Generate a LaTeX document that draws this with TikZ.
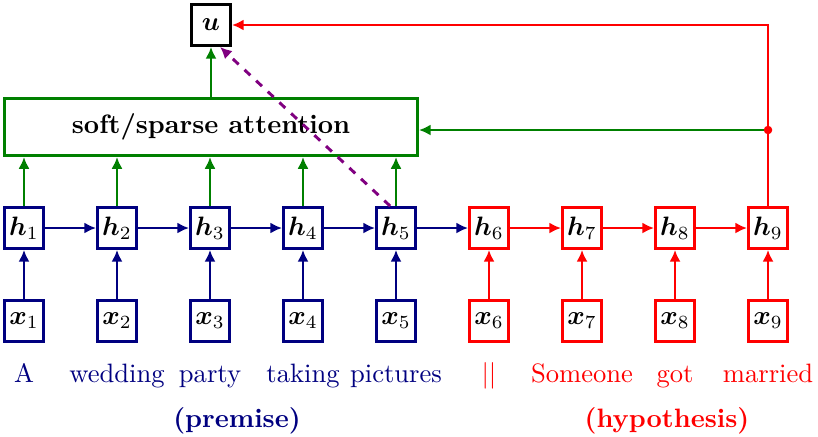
\documentclass[tikz,border=0pt]{standalone}
\usepackage{bm}
\usetikzlibrary{arrows.meta}
\definecolor{navy}{RGB}{0,0,128}
\definecolor{darkgreen}{RGB}{0,128,0}
\definecolor{dpurple}{RGB}{128,0,128}
\tikzset{
  cell/.style={draw,line width=1.2pt,minimum width=14.6pt,minimum height=15.3pt,inner sep=1pt},
  conn/.style={-{Latex[length=4.4pt,width=4.2pt]},line width=1.1pt},
  word/.style={anchor=base,inner sep=0pt},
}
\begin{document}
\begin{tikzpicture}[x=0.376pt,y=-0.376pt]
          \useasboundingbox (0,0) rectangle (818,436);
          \node[cell] (u) at (211,25) {$\bm{u}$};
          \node[cell,draw=darkgreen,minimum width=155.2pt,minimum height=21.4pt] (att) at (211,127) {\bfseries soft/sparse attention};
          \foreach \i/\c/\w [evaluate=\i as \cx using 24+93*(\i-1)] in
            {1/navy/A,2/navy/wedding,3/navy/party,4/navy/taking,5/navy/pictures,
             6/red/$||$,7/red/Someone,8/red/got,9/red/married} {
            \node[cell,draw=\c] (x\i) at (\cx,321) {$\bm{x}_\i$};
            \node[cell,draw=\c] (h\i) at (\cx,228) {$\bm{h}_\i$};
            \node[word,text=\c] (w\i) at (\cx,382) {\w};
            \draw[conn,\c] (x\i) -- (h\i);
          }
          \foreach \i/\j/\c in {1/2/navy,2/3/navy,3/4/navy,4/5/navy,5/6/navy,6/7/red,7/8/red,8/9/red}
            \draw[conn,\c] (h\i) -- (h\j);
          \foreach \i in {1,...,5}
            \draw[conn,darkgreen] (h\i) -- (h\i |- att.south);
          \draw[conn,darkgreen] (att) -- (u);
          \draw[conn,red] (h9) |- (u);
          \coordinate (split) at (768,130);
          \draw[conn,darkgreen] (split) -- (split -| att.east);
          \fill[red] (split) circle (1.6pt);
          \draw[conn,dpurple,dashed] ([xshift=-2.2pt]h5.north) -- ([xshift=3.4pt]u.south);
          \node[word,text=navy,font=\bfseries] (prem) at (237,427) {(premise)};
          \node[word,text=red,font=\bfseries] (hyp) at (667,427) {(hypothesis)};
      \end{tikzpicture}
\end{document}
